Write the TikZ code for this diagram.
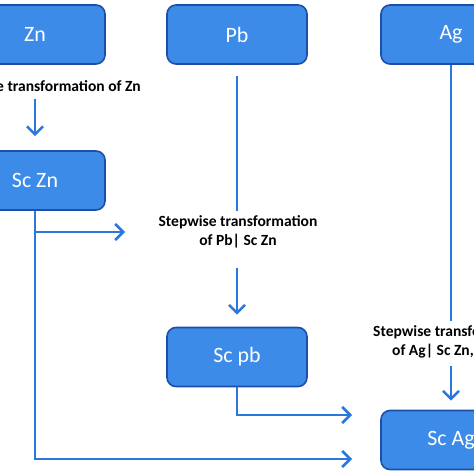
\documentclass[tikz,border=0pt]{standalone}
\usepackage{fontspec}
\setmainfont{Carlito}
\usetikzlibrary{arrows.meta}
\definecolor{boxfill}{HTML}{3D8BE8}
\definecolor{boxedge}{HTML}{1D4FA8}
\definecolor{linecol}{HTML}{2A78DD}
\begin{document}
\begin{tikzpicture}[x=1bp,y=-1bp,
  metal/.style={draw=boxedge, fill=boxfill, line width=1.6bp, rounded corners=9bp,
    minimum width=140bp, minimum height=59bp, inner sep=0pt,
    text=white, font=\fontsize{22}{24}\selectfont},
  lbl/.style={align=center, text=black, inner sep=0pt,
    font=\bfseries\fontsize{15.6}{19.5}\selectfont},
  conn/.style={draw=linecol, line width=2.6bp},
  arr/.style={conn, -{Straight Barb[length=8bp,width=16bp,line width=2.6bp]}}
]
\useasboundingbox (0,0) rectangle (474,474);
\clip (0,0) rectangle (474,474);
\fill[white] (0,0) rectangle (474,474);

\node[metal] (zn) at (35,34.5) {Zn};
\node[metal] (pb) at (237,34.5) {Pb};
\node[metal] (ag) at (451,34.5) {Ag};
\node[metal] (sczn) at (35,180.5) {Sc Zn};
\node[metal] (scpb) at (237,357) {Sc pb};
\node[metal] (scag) at (451,440) {Sc Ag};

\node[lbl, anchor=east] (l1) at (141,87) {Stepwise transformation of Zn};
\node[lbl] (l2) at (238,232) {Stepwise transformation\\of Pb| Sc Zn};
\node[lbl, align=left, anchor=west] (l3) at (373,342) {Stepwise transformation\\\hspace*{19bp}of Ag| Sc Zn, Sc pb};

\coordinate (c1) at (35,459);
\coordinate (e1) at (352,459);
\coordinate (b1) at (35,232);
\coordinate (e2) at (125,232);
\coordinate (c3) at (237,415);
\coordinate (e3) at (352,415);

\draw[arr, shorten >=14bp] (l1.south -| zn.south) ++(0,5) -- (sczn.north);
\draw[conn, shorten <=11bp, shorten >=4bp] (pb.south) -- (l2.north -| pb.south);
\draw[arr, shorten <=19bp, shorten >=12bp] (l2.south -| pb.south) -- (scpb.north);
\draw[conn, shorten >=4bp] (ag.south) -- (l3.north -| ag.south);
\draw[arr, shorten <=7bp, shorten >=9bp] (l3.south -| ag.south) -- (scag.north);
\draw[arr] (sczn.south) -- (c1) -- (e1);
\draw[arr] (b1) -- (e2);
\draw[arr] (scpb.south) -- (c3) -- (e3);
\end{tikzpicture}
\end{document}
